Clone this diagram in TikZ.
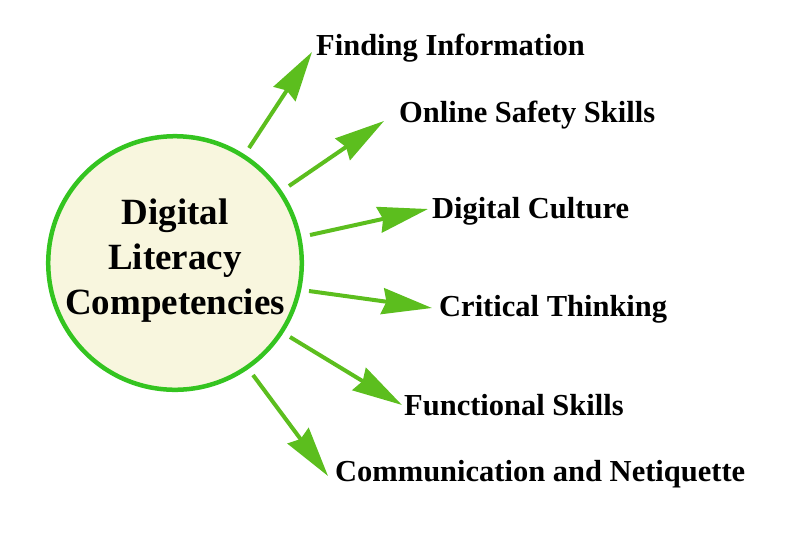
\documentclass[tikz,border=0pt]{standalone}
\usepackage{fontspec}
\setmainfont{Liberation Serif}
\usetikzlibrary{arrows.meta}
\definecolor{ringgreen}{RGB}{52,196,32}
\definecolor{arrowgreen}{RGB}{92,190,30}
\definecolor{hubfill}{RGB}{248,246,222}

\begin{document}
\begin{tikzpicture}[x=1pt,y=-1pt,
  hubstyle/.style={circle, draw=ringgreen, line width=4.5pt, fill=hubfill, minimum size=250pt, inner sep=0pt, align=center, font=\bfseries\fontsize{37}{45}\selectfont},
  itemlabel/.style={anchor=west, inner sep=0pt, font=\bfseries\fontsize{30.5}{34}\selectfont},
  arr/.style={draw=arrowgreen, line width=4pt, -{Stealth[length=50pt,width=26pt,inset=4pt]}}]
\useasboundingbox (0,0) rectangle (800,541);

\node[hubstyle] (hub) at (175,263) {Digital\\Literacy\\Competencies\rule[-12pt]{0pt}{0pt}};

% labels
\node[itemlabel] (finding) at (316,48) {Finding Information};
\node[itemlabel] (safety) at (399,115) {Online Safety Skills};
\node[itemlabel] (culture) at (432,211) {Digital Culture};
\node[itemlabel] (critical) at (439,309) {Critical Thinking};
\node[itemlabel] (functional) at (404,405) {Functional Skills};
\node[itemlabel] (netiquette) at (335,474) {Communication and Netiquette};

% arrow ends
\coordinate (s1) at (249,148); \coordinate (t1) at (312,52);
\coordinate (s2) at (289,186); \coordinate (t2) at (384,121);
\coordinate (s3) at (310,235); \coordinate (t3) at (428,209);
\coordinate (s4) at (309,291); \coordinate (t4) at (432,308);
\coordinate (s5) at (290,337); \coordinate (t5) at (402,405);
\coordinate (s6) at (253,375); \coordinate (t6) at (328,476);

\foreach \i in {1,...,6}
  \draw[arr] (s\i) -- (t\i);
\end{tikzpicture}
\end{document}
